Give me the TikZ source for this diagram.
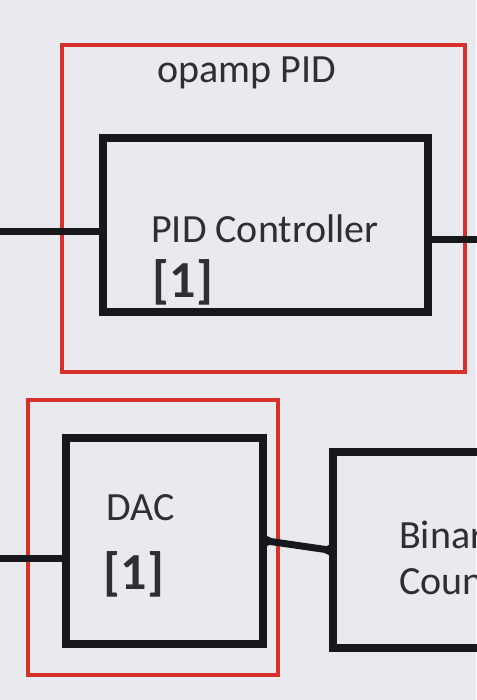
\documentclass[tikz,border=0pt]{standalone}
\usepackage{fontspec}
\setmainfont{Carlito}
\usetikzlibrary{positioning}
\definecolor{bgscreen}{HTML}{E9EAEE}
\definecolor{frred}{HTML}{D8312C}
\definecolor{blkline}{HTML}{16181C}
\definecolor{txtgray}{HTML}{2E2F33}
\begin{document}
\begin{tikzpicture}[x=1pt, y=-1pt,
    font=\fontsize{40}{46}\selectfont,
    block/.style={draw=blkline, line width=8pt, inner sep=0pt},
    redframe/.style={draw=frred, line width=3.5pt, inner sep=0pt},
    wire/.style={draw=blkline, line width=7pt},
    lbl/.style={text=txtgray, inner sep=0pt},
    refnum/.style={lbl, font=\fontsize{52}{56}\selectfont\bfseries}]
    % fond
    \fill[bgscreen] (0,0) rectangle (476,700);
    \useasboundingbox (0,0) rectangle (476,700);
    % cadres rouges
    \node[redframe, minimum width=403, minimum height=327] (pidframe) at (263.5,208.5) {};
    \node[redframe, minimum width=250, minimum height=275] (dacframe) at (153,537.5) {};
    \node[lbl] (pidtitle) at (247,73) {opamp PID};
    % blocs
    \node[block, minimum width=325, minimum height=174] (pid) at (265.5,225) {};
    \node[block, minimum width=197, minimum height=206] (dac) at (164.5,541) {};
    \node[block, minimum width=260, minimum height=196] (bin) at (463,550) {};
    % textes des blocs
    \node[lbl] (pidtxt) at (265,229) {PID Controller};
    \node[refnum] (pidref) at (183,282) {[1]};
    \node[lbl] (dactxt) at (141,508) {DAC};
    \node[refnum] (dacref) at (134,574) {[1]};
    \node[lbl, anchor=west, align=left] (bintxt) at (399,558) {Binary\\[0pt]Counter};
    % liaisons
    \coordinate (pidin) at (0,232);
    \coordinate (pidout) at (490,240);
    \coordinate (dacin) at (0,558);
    \draw[wire] (pidin) -- (pidin -| pid.west);
    \draw[wire] (pidout -| pid.east) -- (pidout);
    \draw[wire] (dacin) -- (dacin -| dac.west);
    \draw[wire] (dac.east) -- (bin.west);
    \fill[blkline] (dac.east) circle (5);
    \fill[blkline] (bin.west) circle (5);
\end{tikzpicture}
\end{document}
